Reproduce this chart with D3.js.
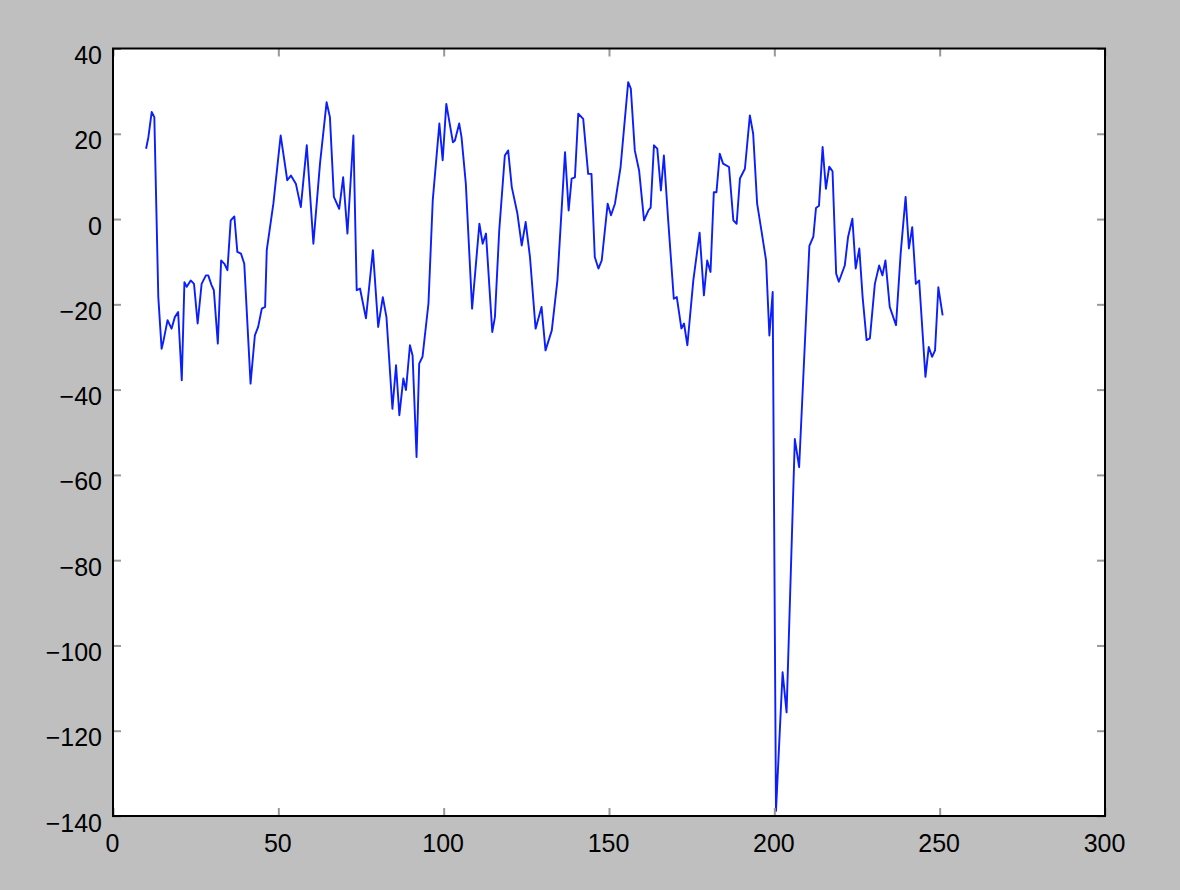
<!DOCTYPE html>
<html>
<head>
<meta charset="utf-8">
<script src="https://cdn.jsdelivr.net/npm/d3@7/dist/d3.min.js"></script>
<style>
  html, body { margin: 0; padding: 0; background: #bfbfbf; }
  svg { display: block; }
  text { font-family: "Liberation Sans", Arial, Helvetica, sans-serif; }
</style>
</head>
<body>
<svg id="chart" width="1180" height="890"></svg>
<script>
// Series vertices (x, value)
const xs = [10,10.7,11.7,12.5,13.7,14.7,15.2,16.5,17.7,18.7,19.7,20.8,21.6,22.3,23.5,24.5,25.6,26.8,28.1,28.8,
  29.8,30.5,31.7,32.7,33.7,34.6,35.6,36.7,37.6,38.7,39.7,41.6,42.9,43.9,45,46,46.5,48.5,50.7,52.7,
  53.8,55.3,56.8,58.6,60.6,62.6,64.6,65.6,66.8,68.4,69.6,70.9,72.7,73.7,74.7,76.5,78.6,80.2,81.6,82.7,
  84.5,85.6,86.6,87.8,88.6,89.8,90.6,91.8,92.6,93.6,95.4,96.7,98.7,99.7,100.8,102.8,103.4,104.7,105.4,106.7,
  108.6,110.8,111.8,112.8,114.7,115.5,116.8,118.5,119.5,120.6,122.3,123.6,124.8,126.1,127.8,129.6,130.8,132.7,134.4,136.7,
  137.8,138.7,139.7,140.7,142.2,143.7,144.7,145.7,146.8,147.8,149.6,150.6,151.8,153.5,155.8,156.6,157.8,159.1,160.6,161.9,
  162.6,163.6,164.6,165.7,166.6,167.9,169.6,170.5,171.9,172.7,173.7,175.5,177.4,178.7,179.7,180.7,181.7,182.5,183.5,184.5,
  186.3,187.6,188.6,189.6,191.1,192.6,193.6,194.8,196.1,197.5,198.5,199.5,200.5,202.5,203.7,206.2,207.5,210.6,211.8,212.6,
  213.5,214.6,215.6,216.6,217.6,218.7,219.5,221.3,222.3,223.6,224.6,225.7,226.7,227.9,228.9,230.4,231.7,232.7,233.6,234.9,
  236.8,238.2,239.7,240.7,241.7,242.8,243.8,245.7,246.7,247.7,248.6,249.6,250.9];
const values = [16.5,19.2,25.1,23.9,-18.3,-30.4,-28.8,-23.7,-25.7,-23,-21.8,-37.8,-14.8,-15.9,-14.4,-15.2,-24.5,-15.2,-13.2,-13.2,
  -15.5,-16.7,-29.2,-9.7,-10.5,-12,-0.3,0.6,-7.7,-8.1,-10.5,-38.6,-27.3,-25.3,-21,-20.6,-7.3,3.6,19.6,9.1,
  10.2,8.3,2.8,17.3,-5.8,13,27.4,23.9,5.2,2.4,9.8,-3.4,19.6,-16.7,-16.3,-23.3,-7.3,-25.3,-18.3,-23,
  -44.5,-34.3,-46,-37.4,-40.1,-29.6,-32,-55.8,-33.9,-32.3,-19.8,4.4,22.4,13.8,27,18,18.4,22.4,19.2,8.3,
  -21,-1.1,-5.8,-3.4,-26.5,-23,-2.7,14.9,16.1,7.5,1.3,-6.2,-0.7,-8.9,-25.7,-20.6,-30.8,-26.1,-14.4,15.7,
  2,9.5,9.8,24.7,23.5,10.6,10.6,-8.9,-11.6,-9.7,3.6,0.9,3.6,12.2,32.1,30.6,16.1,11.4,-0.3,2,
  2.7,17.3,16.5,6.7,14.9,-0.3,-18.7,-18.3,-25.7,-24.5,-29.6,-14.4,-3.2,-17.9,-9.7,-12.4,6.3,6.3,15.3,13,
  12.2,-0.3,-1.1,9.5,11.8,24.3,20,3.6,-2.7,-9.7,-27.3,-17.1,-138.8,-106.3,-115.7,-51.6,-58.2,-6.3,-4.1,2.6,
  3.1,16.9,7.1,12.3,11.2,-12.8,-14.7,-10.9,-4.2,0.1,-11.6,-6.9,-18.3,-28.4,-28,-15.2,-10.9,-13.2,-9.7,-20.6,
  -24.9,-8.1,5.2,-6.9,-1.9,-15.2,-14.4,-37,-30,-32.3,-30.8,-16,-22.6];
const xTicks = [0, 50, 100, 150, 200, 250, 300];
const yTicks = [-140, -120, -100, -80, -60, -40, -20, 0, 20, 40];
const xDomain = [0, 300];
const yDomain = [-140, 40];

const svg = d3.select("#chart");
const L = 113, R = 1105, T = 48.5, B = 816;
const x = d3.scaleLinear().domain(xDomain).range([L, R]);
const y = d3.scaleLinear().domain(yDomain).range([B, T]);

svg.append("rect").attr("x", 0).attr("y", 0).attr("width", 1180).attr("height", 890).attr("fill", "#bfbfbf");
svg.append("rect").attr("x", L).attr("y", T).attr("width", R - L).attr("height", B - T).attr("fill", "#ffffff");

const data = xs.map((d, i) => [d, values[i]]);
svg.append("path")
  .datum(data)
  .attr("fill", "none")
  .attr("stroke", "#0a1eff")
  .attr("stroke-width", 1.9)
  .attr("stroke-linejoin", "round")
  .attr("d", d3.line().x(d => x(d[0])).y(d => y(d[1])));

const fmt = d3.format("");
function styleAxis(g, hideLabels) {
  g.select(".domain").remove();
  g.selectAll(".tick line").attr("stroke", "#999999").attr("stroke-width", 2);
  if (hideLabels) g.selectAll(".tick text").remove();
  g.selectAll(".tick text").attr("fill", "#000").style("font-size", "25px")
    .style("font-family", '"Liberation Sans", Arial, Helvetica, sans-serif');
}

const gl = svg.append("g").attr("transform", `translate(${L},0)`)
  .call(d3.axisLeft(y).tickValues(yTicks).tickSize(-8).tickPadding(11).tickFormat(fmt));
styleAxis(gl, false);
gl.selectAll(".tick text").attr("dy", null).attr("y", 15);

const gr = svg.append("g").attr("transform", `translate(${R},0)`)
  .call(d3.axisRight(y).tickValues(yTicks).tickSize(-8));
styleAxis(gr, true);

const gb = svg.append("g").attr("transform", `translate(0,${B})`)
  .call(d3.axisBottom(x).tickValues(xTicks).tickSize(-8).tickPadding(0).tickFormat(fmt));
styleAxis(gb, false);
gb.selectAll(".tick text").attr("dy", null).attr("y", 36).attr("x", -1);

const gt = svg.append("g").attr("transform", `translate(0,${T})`)
  .call(d3.axisTop(x).tickValues(xTicks).tickSize(-8));
styleAxis(gt, true);

svg.append("rect").attr("x", L).attr("y", T).attr("width", R - L).attr("height", B - T)
  .attr("fill", "none").attr("stroke", "#000").attr("stroke-width", 2);
</script>
</body>
</html>
